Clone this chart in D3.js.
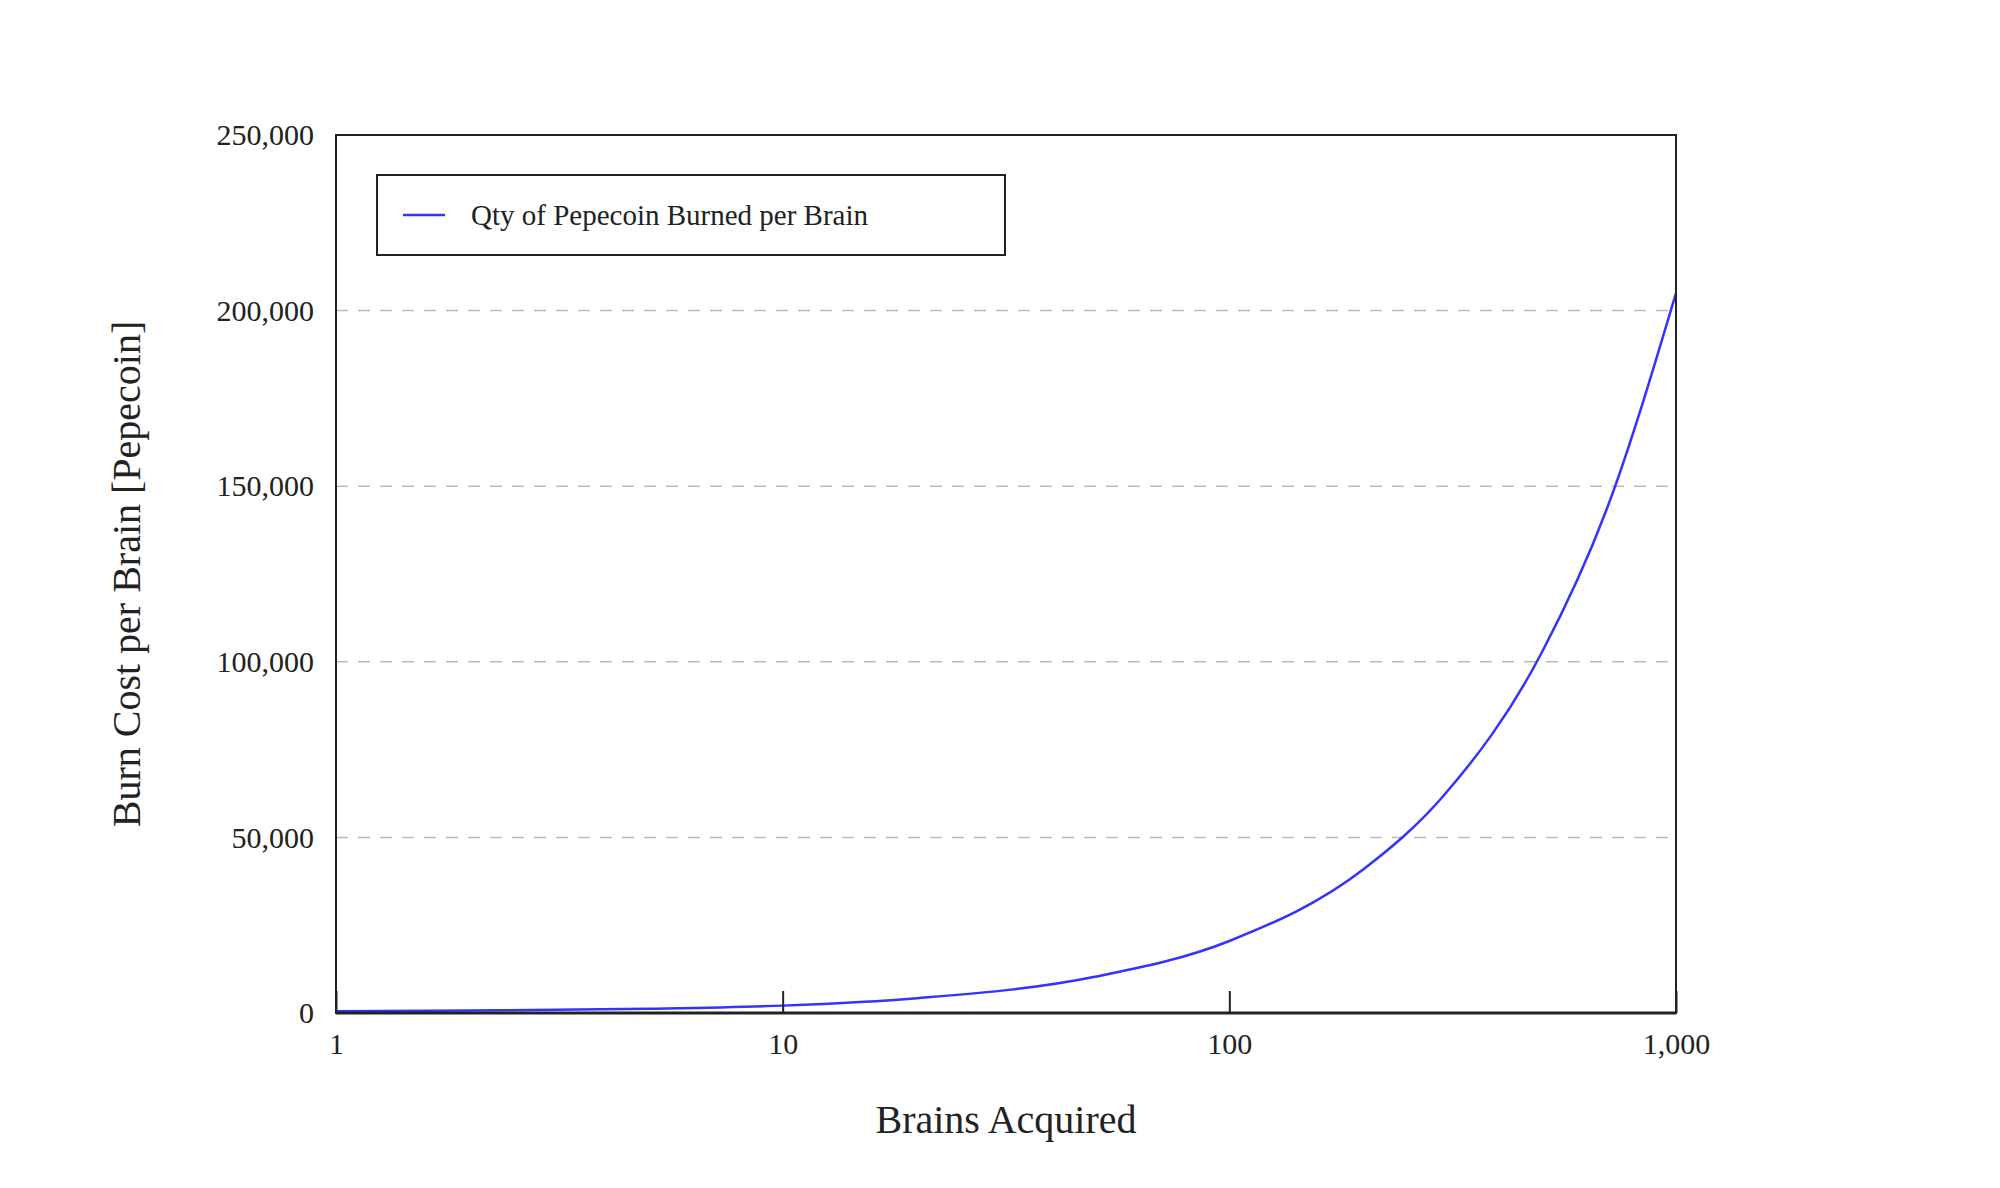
<!DOCTYPE html>
<html><head><meta charset="utf-8">
<script src="https://cdn.jsdelivr.net/npm/d3@7"></script>
<style>body{margin:0;background:#fff}text{font-family:"Liberation Serif","DejaVu Serif",serif;fill:#222}</style>
</head><body><div id="chart"></div>
<script>
// data
var brains = [1, 2, 5, 10, 20, 50, 100, 200, 300, 500, 700, 1000];
var burnCost = [500, 700, 1200, 2100, 4200, 10300, 20500, 41000, 61500, 102500, 143500, 205000];
var yTicks = [0, 50000, 100000, 150000, 200000, 250000];
var xTicks = [1, 10, 100, 1000];

var svgWidth = 2000, svgHeight = 1188;
var margin = {top: 135, right: 324, bottom: 175, left: 336};
var width = svgWidth - margin.left - margin.right;
var height = svgHeight - margin.top - margin.bottom;

var svg = d3.select("#chart").append("svg")
  .attr("width", svgWidth).attr("height", svgHeight);
var g = svg.append("g").attr("transform", `translate(${margin.left},${margin.top})`);

var x = d3.scaleLog().domain([1, 1000]).range([0, width]);
var y = d3.scaleLinear().domain([0, 250000]).range([height, 0]);
var fmt = d3.format(",");

// grid
g.selectAll(".grid").data(yTicks.filter(d => d > 0 && d < 250000)).enter()
  .append("line").attr("x1", 0).attr("x2", width)
  .attr("y1", d => y(d)).attr("y2", d => y(d))
  .attr("stroke", "#bbb").attr("stroke-width", 1.5).attr("stroke-dasharray", "12,10");

// line
var data = brains.map((b, i) => ({b: b, v: burnCost[i]}));
g.append("path").datum(data)
  .attr("fill", "none").attr("stroke", "#3333ff").attr("stroke-width", 2.5)
  .attr("d", d3.line().x(d => x(d.b)).y(d => y(d.v)).curve(d3.curveMonotoneX));

// frame
g.append("rect").attr("width", width).attr("height", height)
  .attr("fill", "none").attr("stroke", "#222").attr("stroke-width", 2);
g.append("line").attr("x1", 0).attr("x2", width).attr("y1", height).attr("y2", height)
  .attr("stroke", "#222").attr("stroke-width", 3);

// x axis (ticks inward)
var xAxis = d3.axisBottom(x).tickValues(xTicks).tickFormat(fmt).tickSize(-22).tickPadding(14);
var xg = g.append("g").attr("transform", `translate(0,${height})`).call(xAxis);
xg.select(".domain").remove();
xg.selectAll(".tick line").attr("stroke", "#222").attr("stroke-width", 2);
xg.selectAll(".tick text").attr("font-size", 30).attr("dy", "0.9em");

// y axis labels only
var yAxis = d3.axisLeft(y).tickValues(yTicks).tickFormat(fmt).tickSize(0).tickPadding(22);
var yg = g.append("g").call(yAxis);
yg.select(".domain").remove();
yg.selectAll(".tick text").attr("font-size", 30);

// axis titles
g.append("text").attr("x", width / 2).attr("y", height + 120)
  .attr("text-anchor", "middle").attr("font-size", 40).text("Brains Acquired");
g.append("text").attr("transform", "rotate(-90)")
  .attr("x", -height / 2).attr("y", -196)
  .attr("text-anchor", "middle").attr("font-size", 40).text("Burn Cost per Brain [Pepecoin]");

// legend
var lg = g.append("g").attr("transform", "translate(41,40)");
lg.append("rect").attr("width", 628).attr("height", 80)
  .attr("fill", "#fff").attr("stroke", "#222").attr("stroke-width", 2);
lg.append("line").attr("x1", 26).attr("x2", 68).attr("y1", 40).attr("y2", 40)
  .attr("stroke", "#3333ff").attr("stroke-width", 2.5);
lg.append("text").attr("x", 94).attr("y", 40).attr("dy", "0.35em")
  .attr("font-size", 29).text("Qty of Pepecoin Burned per Brain");
</script></body></html>
